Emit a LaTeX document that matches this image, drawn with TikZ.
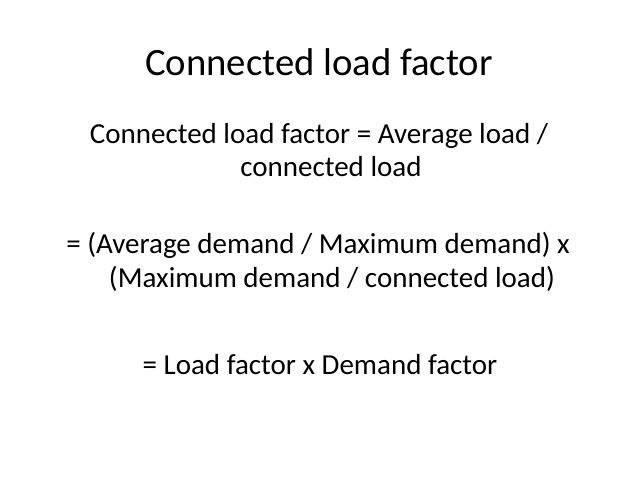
\documentclass[tikz,border=0pt]{standalone}
\usepackage{fontspec}
\setmainfont{Carlito}
\begin{document}
\begin{tikzpicture}[x=1pt,y=-1pt,
  body/.style={anchor=center,inner sep=0pt,font=\fontsize{29}{34}\selectfont}]
\useasboundingbox[fill=white] (0,0) rectangle (638,478);
\node[anchor=center,inner sep=0pt,font=\fontsize{38.7}{44}\selectfont] (title) at (319,62) {Connected load factor};
\node[body] (l1) at (319,136) {Connected load factor = Average load /};
\node[body] (l2) at (331,167) {connected load};
\node[body] (l3) at (318,245) {= (Average demand / Maximum demand) x};
\node[body] (l4) at (332,279) {(Maximum demand / connected load)};
\node[body] (l5) at (320,365) {= Load factor x Demand factor};
\end{tikzpicture}
\end{document}
